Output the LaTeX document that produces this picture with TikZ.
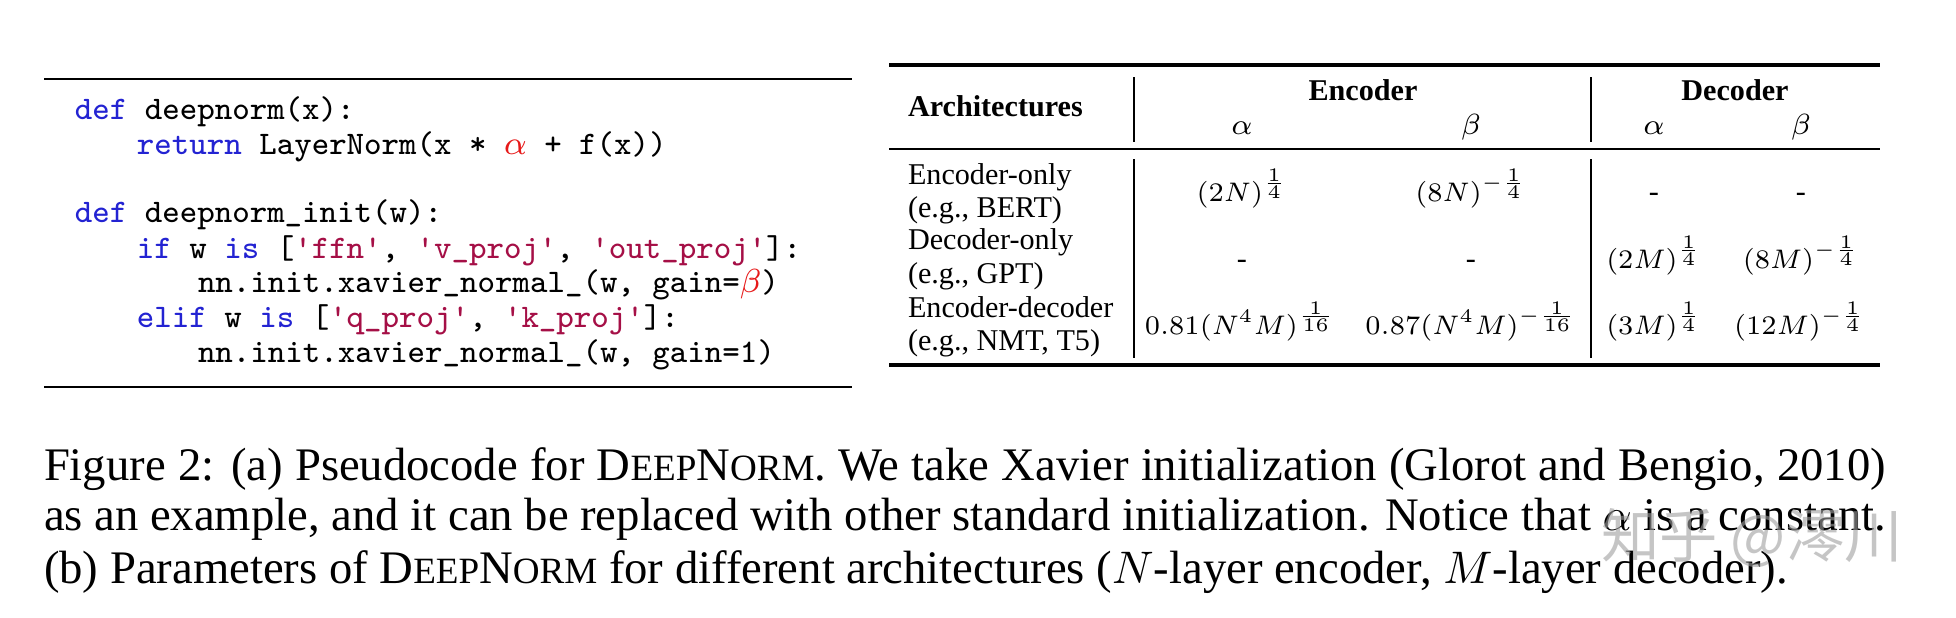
\documentclass[tikz,border=0pt]{standalone}
\usepackage[no-math]{fontspec}
\setmainfont{Liberation Serif}
\newfontfamily\cjk{Noto Sans CJK SC}
\usepackage{xcolor}
\usepackage{graphicx}
\usetikzlibrary{positioning}
\definecolor{kwblue}{RGB}{35,35,210}
\definecolor{strred}{RGB}{165,15,70}
\definecolor{parred}{RGB}{230,25,25}
\newcommand{\kwd}[1]{\textcolor{kwblue}{#1}}
\newcommand{\strg}[1]{\textcolor{strred}{#1}}
\newcommand{\scsz}{\fontsize{8.9}{10}\selectfont}
\newcommand{\dnorm}{D{\scsz EEP}N{\scsz ORM}}
\newcommand{\pval}[1]{\scalebox{0.92}{$#1$}}

\begin{document}
\begin{tikzpicture}[x=0.24pt, y=-0.24pt, inner sep=0pt, outer sep=0pt]
    \tikzstyle{code}=[anchor=mid west, font=\fontsize{7.9}{9}\ttfamily]
    \tikzstyle{rowlab}=[anchor=mid west, font=\fontsize{7.24}{8.7}\selectfont]
    \tikzstyle{cell}=[anchor=mid, font=\fontsize{7.24}{8.7}\selectfont]
    \tikzstyle{captext}=[anchor=mid west, font=\fontsize{11.2}{13.4}\selectfont]
    \tikzstyle{thick rule}=[line width=0.75pt]
    \tikzstyle{thin rule}=[line width=0.45pt]
    \useasboundingbox (0,0) rectangle (1956,618);

    % (a) pseudocode
    \draw[thin rule] (44,79) -- (852,79);
    \draw[thin rule] (44,387) -- (852,387);
    \node[code] (c1) at (75,110) {\kwd{def} deepnorm(x):};
    \node[code] (c2) at (137,145) {\kwd{return} LayerNorm(x * \textcolor{parred}{$\alpha$} + f(x))};
    \node[code] (c3) at (75,213) {\kwd{def} deepnorm\_init(w):};
    \node[code] (c4) at (137,249) {\kwd{if} w \kwd{is} [\strg{'ffn'}, \strg{'v\_proj'}, \strg{'out\_proj'}]:};
    \node[code] (c5) at (198,283) {nn.init.xavier\_normal\_(w, gain=\textcolor{parred}{$\beta$})};
    \node[code] (c6) at (137,318) {\kwd{elif} w \kwd{is} [\strg{'q\_proj'}, \strg{'k\_proj'}]:};
    \node[code] (c7) at (198,353) {nn.init.xavier\_normal\_(w, gain=1)};

    % (b) parameters
    \draw[thick rule] (889,65) -- (1880,65);
    \draw[thin rule] (889,149) -- (1880,149);
    \draw[thick rule] (889,365) -- (1880,365);
    \draw[thin rule] (1134,77) -- (1134,142) (1134,159) -- (1134,358);
    \draw[thin rule] (1591,77) -- (1591,142) (1591,159) -- (1591,358);

    \node[rowlab, font=\fontsize{7.24}{8.7}\bfseries] (arch) at (908,107) {Architectures};
    \node[cell, font=\fontsize{7.24}{8.7}\bfseries] (enc) at (1363,91) {Encoder};
    \node[cell, font=\fontsize{7.24}{8.7}\bfseries] (dec) at (1735,91) {Decoder};
    \node[cell] (ea) at (1242,125) {$\alpha$};
    \node[cell] (eb) at (1471,125) {$\beta$};
    \node[cell] (da) at (1654,125) {$\alpha$};
    \node[cell] (db) at (1801,125) {$\beta$};

    \node[rowlab] (r1a) at (908,175) {Encoder-only};
    \node[rowlab] (r1b) at (908,208) {(e.g., BERT)};
    \node[rowlab] (r2a) at (908,240) {Decoder-only};
    \node[rowlab] (r2b) at (908,274) {(e.g., GPT)};
    \node[rowlab] (r3a) at (908,308) {Encoder-decoder};
    \node[rowlab] (r3b) at (908,341) {(e.g., NMT, T5)};

    \node[cell] (v11) at (1242,192) {\pval{(2N)^{\frac{1}{4}}}};
    \node[cell] (v12) at (1471,192) {\pval{(8N)^{-\frac{1}{4}}}};
    \node[cell] (v13) at (1654,192) {-};
    \node[cell] (v14) at (1801,192) {-};
    \node[cell] (v21) at (1242,259) {-};
    \node[cell] (v22) at (1471,259) {-};
    \node[cell] (v23) at (1654,259) {\pval{(2M)^{\frac{1}{4}}}};
    \node[cell] (v24) at (1801,259) {\pval{(8M)^{-\frac{1}{4}}}};
    \node[cell] (v31) at (1240,325) {\pval{0.81(N^4M)^{\frac{1}{16}}}};
    \node[cell] (v32) at (1471,325) {\pval{0.87(N^4M)^{-\frac{1}{16}}}};
    \node[cell] (v33) at (1654,325) {\pval{(3M)^{\frac{1}{4}}}};
    \node[cell] (v34) at (1800,325) {\pval{(12M)^{-\frac{1}{4}}}};

    % caption
    \node[captext] (cap1) at (44,471) {\makebox[442.1pt][s]{Figure 2: (a) Pseudocode for \dnorm. We take Xavier initialization (Glorot and Bengio, 2010)}};
    \node[captext] (cap2) at (44,521) {\makebox[442.1pt][s]{as an example, and it can be replaced with other standard initialization. Notice that $\alpha$ is a constant.}};
    \node[captext] (cap3) at (44,574) {(b) Parameters of \dnorm{} for different architectures ($N$-layer encoder, $M$-layer decoder).};
    \node[font=\cjk\fontsize{14}{14}\selectfont, text=gray!75, opacity=0.6] (wm) at (1752,538) {知乎 @澪川};
\end{tikzpicture}
\end{document}
